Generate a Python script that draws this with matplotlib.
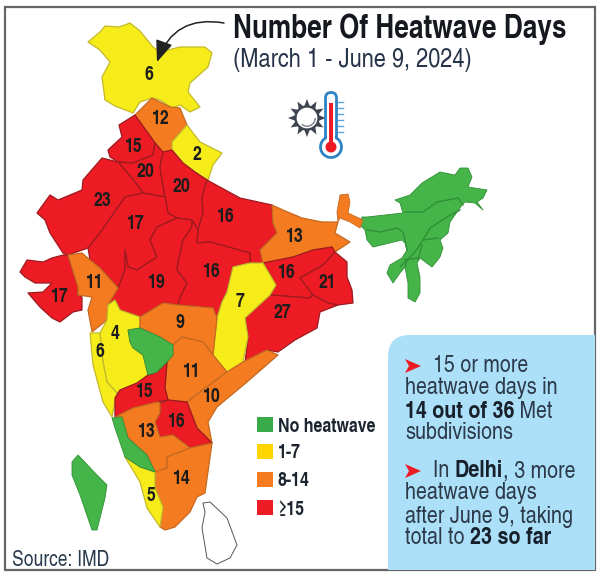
import matplotlib
matplotlib.use("Agg")
import matplotlib.pyplot as plt
from matplotlib.patches import Polygon, Rectangle, FancyBboxPatch, FancyArrowPatch, Circle, PathPatch, Wedge
from matplotlib.path import Path
from matplotlib import font_manager as fm
import numpy as np

names = {f.name for f in fm.fontManager.ttflist}
CONDENSED = "TeX Gyre Heros Cn" in names
NARROW = "TeX Gyre Heros Cn" if CONDENSED else "Liberation Sans"
SCALE = 1.0 if CONDENSED else 0.82

TITLE = "Number Of Heatwave Days"
SUBTITLE = "(March 1 - June 9, 2024)"
SOURCE = "Source: IMD"
LEGEND_LABELS = ["No heatwave", "1-7", "8-14", "≥15"]

SUBDIVISIONS = ["J&K", "Himachal", "Uttarakhand", "Punjab", "Haryana-Delhi", "West UP", "East UP",
                "West Rajasthan", "East Rajasthan", "West MP", "East MP", "Bihar", "Jharkhand",
                "Gangetic WB", "Odisha", "Chhattisgarh", "Saurashtra-Kutch", "Gujarat", "Madhya Maharashtra",
                "Konkan", "Vidarbha", "Telangana", "Coastal AP", "N Karnataka", "Rayalaseema",
                "S Karnataka", "Tamil Nadu", "Kerala"]
DAYS = [6, 12, 2, 15, 20, 20, 16, 23, 17, 19, 16, 13, 16, 21, 27, 7, 17, 11, 4, 6, 9, 11, 10, 15, 16, 13, 14, 5]
LABEL_AT = [(149, 75), (161, 119), (197, 155), (134, 147), (145, 172), (181, 187), (226, 217),
            (102, 201), (136, 224), (157, 283), (212, 272), (295, 237), (287, 273),
            (327, 283), (282, 313), (240, 302), (60, 297), (95, 283), (115, 334),
            (100, 352), (180, 323), (192, 372), (212, 397), (145, 392), (177, 422),
            (147, 432), (182, 479), (151, 496)]

OUTLINES = {
 "J&K": [(88,42),(100,32),(105,26),(119,27),(130,23),(140,31),(153,47),(160,52),(180,47),(205,47),(212,53),(208,67),(190,83),(188,92),(200,107),(190,112),(180,105),(172,108),(160,100),(152,98),(140,102),(133,113),(115,106),(105,100),(102,77),(110,62),(100,50)],
 "Himachal": [(135,115),(152,98),(170,107),(180,108),(187,125),(172,142),(172,150),(163,152),(153,140)],
 "Uttarakhand": [(187,125),(200,142),(222,153),(213,165),(208,180),(195,172),(183,163),(172,150),(172,142)],
 "Punjab": [(135,115),(153,140),(155,143),(153,155),(133,163),(118,162),(110,157),(108,150),(122,137),(119,125)],
 "Haryana-Delhi": [(118,162),(133,163),(153,155),(155,143),(163,152),(160,167),(162,180),(165,197),(143,193),(135,182)],
 "West UP": [(163,152),(172,150),(183,163),(195,172),(207,180),(202,197),(203,213),(198,230),(192,220),(177,218),(168,213),(165,197),(162,180),(160,167)],
 "East UP": [(207,180),(240,198),(272,205),(273,223),(277,233),(260,250),(263,263),(250,263),(250,253),(210,242),(197,243),(198,230),(203,213),(202,197)],
 "West Rajasthan": [(37,213),(50,195),(58,200),(82,190),(83,180),(102,158),(118,162),(135,182),(143,193),(125,197),(123,200),(100,233),(88,248),(68,255),(63,253),(50,233),(45,220)],
 "East Rajasthan": [(88,248),(100,233),(123,200),(125,197),(143,193),(165,197),(168,213),(177,218),(157,227),(150,240),(157,257),(137,270),(128,267),(125,250),(125,270),(118,288),(100,268),(90,260)],
 "West MP": [(118,288),(125,270),(125,250),(128,267),(137,270),(157,257),(150,240),(157,227),(177,218),(192,220),(192,227),(183,240),(178,263),(177,270),(187,283),(180,298),(178,305),(163,303),(140,317),(120,310),(115,300),(108,305)],
 "East MP": [(192,220),(198,230),(197,243),(210,242),(250,253),(250,263),(233,267),(227,292),(222,302),(217,318),(213,308),(178,305),(180,298),(187,283),(177,270),(178,263),(183,240),(192,227)],
 "Bihar": [(272,205),(283,210),(302,218),(322,222),(338,222),(335,233),(350,242),(335,252),(332,247),(313,250),(293,257),(268,262),(263,263),(260,250),(277,233),(273,223)],
 "Jharkhand": [(263,263),(268,262),(293,257),(313,250),(332,247),(335,252),(323,265),(300,278),(313,293),(310,298),(270,295),(276,285)],
 "Gangetic WB": [(335,252),(347,262),(347,277),(352,290),(353,303),(338,305),(328,303),(313,295),(300,278),(323,265)],
 "Odisha": [(270,295),(310,298),(313,295),(328,303),(338,305),(320,312),(317,328),(295,340),(278,352),(267,350),(245,363),(248,337),(245,318)],
 "Chhattisgarh": [(233,267),(250,263),(263,263),(276,285),(270,295),(245,318),(248,337),(243,362),(227,372),(213,355),(217,318),(222,302),(227,292)],
 "Saurashtra-Kutch": [(20,272),(27,260),(43,262),(52,258),(63,255),(68,255),(78,287),(78,295),(82,297),(82,310),(73,312),(60,322),(52,318),(40,307),(28,293),(43,292),(52,283),(35,283),(25,277)],
 "Gujarat": [(68,255),(82,253),(90,260),(100,268),(118,288),(108,305),(107,320),(92,332),(88,310),(92,297),(78,295),(78,287)],
 "Madhya Maharashtra": [(115,300),(120,310),(140,317),(140,328),(128,330),(130,342),(133,348),(143,355),(148,375),(137,383),(117,393),(107,382),(103,362),(100,333),(107,320),(108,305)],
 "Konkan": [(90,333),(100,333),(103,362),(107,382),(117,393),(115,402),(112,417),(103,402),(93,365)],
 "Vidarbha": [(140,317),(163,303),(178,305),(213,308),(217,318),(213,355),(203,342),(182,337),(173,345),(160,337),(140,328)],
 "Telangana": [(173,345),(182,337),(203,342),(213,355),(227,372),(200,392),(187,402),(168,400),(165,388),(167,362),(173,355)],
 "Coastal AP": [(227,372),(243,362),(267,350),(278,355),(247,382),(223,402),(217,407),(208,422),(212,443),(197,428),(187,402),(200,392)],
 "N Karnataka": [(167,362),(165,388),(168,400),(157,402),(133,408),(115,417),(115,398),(120,390),(137,383),(148,375),(157,372)],
 "Rayalaseema": [(160,403),(168,400),(187,402),(197,428),(212,443),(190,448),(173,435),(160,437),(155,422),(160,413)],
 "S Karnataka": [(115,417),(133,408),(157,402),(160,403),(160,413),(155,422),(160,437),(173,435),(190,448),(167,457),(167,468),(155,472),(147,455),(128,438),(122,417)],
 "Tamil Nadu": [(155,472),(167,468),(167,457),(190,448),(212,443),(205,493),(197,497),(190,512),(175,527),(165,530),(160,527),(163,507),(155,488)],
 "Kerala": [(125,457),(140,467),(155,472),(155,488),(163,507),(160,527),(147,508),(140,482)],
}
NO_HEATWAVE = {
 "Marathwada": [(128,330),(140,328),(160,337),(173,345),(173,355),(167,362),(157,372),(148,375),(143,355),(133,348),(130,342)],
 "Coastal Karnataka": [(112,418),(122,417),(128,438),(147,455),(155,472),(140,467),(125,457),(115,428)],
 "Lakshadweep": [(72,462),(78,455),(97,475),(107,485),(105,498),(97,530),(92,530),(80,495),(72,475)],
 "North East": [(362,217),(367,217),(403,213),(400,203),(395,200),(410,195),(422,183),(440,172),(455,175),(460,168),(468,168),(472,177),(468,187),(487,190),(483,198),(477,202),(483,210),(475,203),(465,202),(462,205),(450,222),(448,233),(440,240),(443,248),(440,257),(432,267),(420,258),(417,263),(420,277),(420,293),(415,302),(408,298),(408,283),(405,267),(400,273),(393,283),(387,273),(390,265),(402,258),(407,250),(405,243),(402,240),(373,247),(367,240),(365,230),(360,225)],
}
NE_LINES = [[(405,212),(423,212),(437,202),(458,198),(463,205)],
            [(460,210),(447,217),(430,228),(423,240),(415,252),(407,260),(400,267)],
            [(367,230),(380,232),(397,228),(403,232),(405,240),(407,250)],
            [(423,240),(438,238)],[(422,245),(418,260)],[(405,260),(418,258)],[(407,260),(405,267)]]
SHWB = [(338,222),(337,212),(340,195),(348,194),(350,202),(348,213),(363,220),(360,228),(350,222),(340,218)]
SRI_LANKA = [(203,503),(210,502),(227,518),(237,545),(230,558),(217,564),(207,558),(202,528),(205,512)]

BIN_COLOURS = ["#46b549", "#f5ec1a", "#f47b20", "#ed1c24"]
BIN_EDGES = ["#2f8f36", "#c4b92a", "#c46a22", "#9c1a1e"]
LEGEND_COLOURS = ["#39aa4a", "#ffd500", "#f47b20", "#ed1c24"]

def bin_of(v):
    return 0 if v == 0 else 1 if v <= 7 else 2 if v <= 14 else 3

fig = plt.figure(figsize=(6, 5.75), dpi=100, facecolor="white")
ax = fig.add_axes([0, 0, 1, 1])
ax.set_xlim(0, 600); ax.set_ylim(575, 0); ax.axis("off")
ax.add_patch(Rectangle((4.5, 6.5), 590, 563, fc="white", ec="#666666", lw=1.6, zorder=0))

panel = Path([(595,335),(410,335),(388,335),(388,357),(388,570),(595,570),(595,335)],
             [Path.MOVETO, Path.LINETO, Path.CURVE3, Path.CURVE3, Path.LINETO, Path.LINETO, Path.CLOSEPOLY])
ax.add_patch(PathPatch(panel, fc="#ace0f9", ec="none", zorder=1))

for name, v in zip(SUBDIVISIONS, DAYS):
    b = bin_of(v)
    ax.add_patch(Polygon(OUTLINES[name], closed=True, fc=BIN_COLOURS[b], ec=BIN_EDGES[b], lw=0.9, joinstyle="round", zorder=3))
for name, pts in NO_HEATWAVE.items():
    ax.add_patch(Polygon(pts, closed=True, fc=BIN_COLOURS[0], ec=BIN_EDGES[0], lw=0.6, joinstyle="round", zorder=3))
ax.add_patch(Polygon(SHWB, closed=True, fc=BIN_COLOURS[2], ec=BIN_EDGES[2], lw=0.6, zorder=3))
ax.add_patch(Polygon(SRI_LANKA, closed=True, fc="white", ec="#555555", lw=0.7, zorder=3))
for line in NE_LINES:
    xs, ys = zip(*line)
    ax.plot(xs, ys, color=BIN_EDGES[0], lw=1.0, zorder=4)

for (x, y), v in zip(LABEL_AT, DAYS):
    ax.text(x, y, str(v), family=NARROW, weight="bold", fontsize=14*SCALE, color="#1c1c1c", ha="center", va="center", zorder=6)

ax.text(233, 29, TITLE, family=NARROW, weight="bold", fontsize=23*SCALE, color="#15181f", ha="left", va="center", zorder=6)
ax.text(233, 60, SUBTITLE, family=NARROW, fontsize=19.2*SCALE, color="#263448", ha="left", va="center", zorder=6)
ax.add_patch(FancyArrowPatch((224, 23), (157, 62), connectionstyle="arc3,rad=0.42", arrowstyle="-|>,head_length=6,head_width=2.4",
                             color="#222222", lw=1.1, mutation_scale=2.2, shrinkA=0, shrinkB=0, zorder=7))

SC = (307, 118)
for a in np.linspace(0, 2*np.pi, 12, endpoint=False):
    ca, sa = np.cos(a), np.sin(a)
    ax.add_patch(Polygon([(SC[0]+11*ca-3*sa, SC[1]+11*sa+3*ca),(SC[0]+19*ca,SC[1]+19*sa),(SC[0]+11*ca+3*sa,SC[1]+11*sa-3*ca)], fc="#3d4450", ec="none", zorder=5))
ax.add_patch(Circle(SC, 11.5, fc="white", ec="#3d4450", lw=1.6, zorder=5))
ax.add_patch(Wedge(SC, 9, 0, 130, width=1.6, fc="#8a9099", ec="none", zorder=5))
ax.add_patch(FancyBboxPatch((325.5,92.5), 11, 55, boxstyle="round,pad=0,rounding_size=5.5", fc="white", ec="#2f83c5", lw=2, zorder=6))
ax.add_patch(Circle((331,147), 10.5, fc="white", ec="#2f83c5", lw=2, zorder=6))
ax.add_patch(Rectangle((326.6,133), 8.8, 14, fc="white", ec="none", zorder=7))
ax.add_patch(Rectangle((329,103), 4, 42, fc="#ed1c24", ec="none", zorder=8))
ax.add_patch(Circle((331,147), 5.5, fc="#ed1c24", ec="none", zorder=8))
for y in np.arange(102, 135, 6):
    ax.plot([338, 343], [y, y], color="#5ea6dc", lw=1, zorder=5)

LEG_Y = [424.5, 451, 479, 507.5]
for y, c, t in zip(LEG_Y, LEGEND_COLOURS, LEGEND_LABELS):
    ax.add_patch(Rectangle((257, y-7.5), 16, 15, fc=c, ec="none", zorder=5))
    ax.text(278, y+2, t, family=NARROW, weight="bold", fontsize=14*SCALE, color="#1c2430", ha="left", va="center", zorder=6)

ax.text(12, 561, SOURCE, family=NARROW, fontsize=15.3*SCALE, color="#2a3a4e", ha="left", va="center", zorder=6)

PANEL_LINES = [
 (433, 366, [("15 or more", False)]),
 (405, 388, [("heatwave days in", False)]),
 (405, 412, [("14 out of 36", True), (" Met", False)]),
 (405, 433, [("subdivisions", False)]),
 (433, 471, [("In ", False), ("Delhi", True), (", 3 more", False)]),
 (405, 493, [("heatwave days", False)]),
 (405, 517, [("after June 9, taking", False)]),
 (405, 538, [("total to ", False), ("23 so far", True)]),
]
fig.canvas.draw()
r = fig.canvas.get_renderer()
for x, y, runs in PANEL_LINES:
    cx = x
    for s, bold in runs:
        t = ax.text(cx, y, s.replace(" ", "\u00a0"), family=NARROW, weight="bold" if bold else "normal", fontsize=17.3*SCALE,
                    color="#17202b" if bold else "#2c3a4a", ha="left", va="center", zorder=6)
        cx += t.get_window_extent(r).width
for yc in (366, 471):
    ax.add_patch(Polygon([(405,yc-7),(421,yc),(405,yc+7),(409,yc)], fc="#ed1c24", ec="none", zorder=6))

fig.savefig("out.png", dpi=100)
